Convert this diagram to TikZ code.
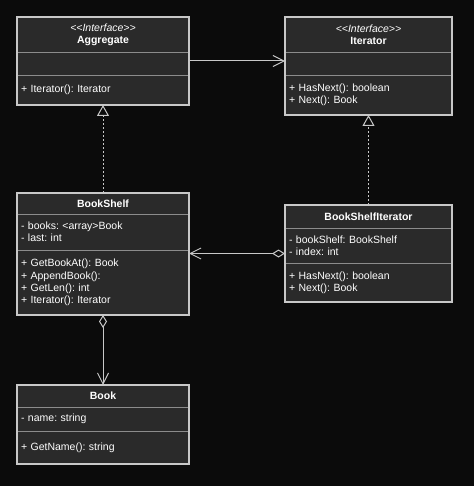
\documentclass[tikz,border=0pt]{standalone}
\usepackage{fontspec}
\setmainfont{Liberation Sans}
\usetikzlibrary{arrows.meta,positioning,calc}
\definecolor{bgcol}{HTML}{0B0B0B}
\definecolor{boxfill}{HTML}{2A2A2A}
\definecolor{boxline}{HTML}{C8C8C8}
\definecolor{divline}{HTML}{8C8C8C}
\frenchspacing

\begin{document}
\begin{tikzpicture} [x=1pt, y=-1pt, every node/.style = {text=white, inner sep=0pt, outer sep=0pt, font=\fontsize{10.5}{12.3}\selectfont}]
        \tikzstyle{part}=[draw=divline, fill=boxfill, line width=0.8pt, align=left, inner xsep=4pt]
        \tikzstyle{head}=[part, align=center, font=\fontsize{10.5}{12.3}\selectfont\bfseries]
        \tikzstyle{frame}=[draw=boxline, line width=1.2pt, anchor=north west]
        \tikzstyle{assoc}=[draw=boxline, line width=1pt, -{Straight Barb[length=11pt,width=11pt]}]
        \tikzstyle{realize}=[draw=boxline, line width=1pt, dash pattern=on 2pt off 2pt, -{Triangle[open,length=11pt,width=12pt]}]
        \tikzstyle{aggr}=[draw=boxline, line width=1pt, {Diamond[open,length=13pt,width=8pt]}-{Straight Barb[length=11pt,width=11pt]}]

        \fill[bgcol] (0,0) rectangle (474,486);

        % Aggregate
        \node[head, anchor=north west, text width=164pt, minimum height=35pt] (aggHead) at (17,17)
            {{\mdseries\itshape <{}<Interface>{}>}\\Aggregate};
        \node[part, text width=164pt, minimum height=23pt, below=0pt of aggHead] (aggAttr) {};
        \node[part, text width=164pt, minimum height=30pt, below=0pt of aggAttr] (aggOps)
            {+ Iterator(): Iterator};

        % Iterator
        \node[head, anchor=north west, text width=159pt, minimum height=35pt] (iterHead) at (285,17)
            {{\mdseries\itshape <{}<Interface>{}>}\\Iterator};
        \node[part, text width=159pt, minimum height=23pt, below=0pt of iterHead] (iterAttr) {};
        \node[part, text width=159pt, minimum height=40pt, below=0pt of iterAttr] (iterOps)
            {+ HasNext(): boolean\\+ Next(): Book};

        % BookShelf
        \node[head, anchor=north west, text width=164pt, minimum height=21pt] (shelfHead) at (17,193) {BookShelf};
        \node[part, text width=164pt, minimum height=36pt, below=0pt of shelfHead] (shelfAttr)
            {- books: <array>Book\\- last: int};
        \node[part, text width=164pt, minimum height=65pt, below=0pt of shelfAttr] (shelfOps)
            {+ GetBookAt(): Book\\+ AppendBook():\\+ GetLen(): int\\+ Iterator(): Iterator};

        % BookShelfIterator
        \node[head, anchor=north west, text width=159pt, minimum height=23pt] (shelfIterHead) at (285,205) {BookShelfIterator};
        \node[part, text width=159pt, minimum height=35pt, below=0pt of shelfIterHead] (shelfIterAttr)
            {- bookShelf: BookShelf\\- index: int};
        \node[part, text width=159pt, minimum height=39pt, below=0pt of shelfIterAttr] (shelfIterOps)
            {+ HasNext(): boolean\\+ Next(): Book};

        % Book
        \node[head, anchor=north west, text width=164pt, minimum height=22pt] (bookHead) at (17,385) {Book};
        \node[part, text width=164pt, minimum height=24pt, below=0pt of bookHead] (bookAttr) {- name: string};
        \node[part, text width=164pt, minimum height=33pt, below=0pt of bookAttr] (bookOps)
            {+ GetName(): string};

        % outer frames
        \node[frame, minimum width=172pt, minimum height=88pt] (agg) at (17,17) {};
        \node[frame, minimum width=167pt, minimum height=98pt] (iter) at (285,17) {};
        \node[frame, minimum width=172pt, minimum height=122pt] (shelf) at (17,193) {};
        \node[frame, minimum width=167pt, minimum height=97pt] (shelfIter) at (285,205) {};
        \node[frame, minimum width=172pt, minimum height=79pt] (book) at (17,385) {};

        % relations
        \draw[assoc] (agg.east) -- (agg.east -| iter.west);
        \draw[realize] (shelf.north) -- (agg.south);
        \draw[realize] (shelfIter.north) -- (iter.south);
        \draw[aggr] (shelfIter.west) -- (shelfIter.west -| shelf.east);
        \draw[aggr] (shelf.south) -- (book.north);
    \end{tikzpicture}
\end{document}
